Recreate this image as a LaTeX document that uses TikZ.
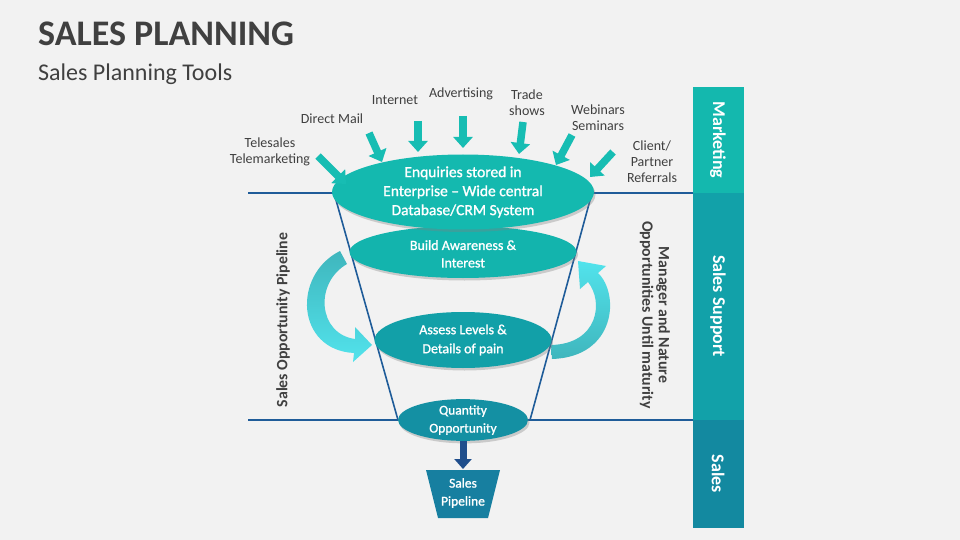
\documentclass[tikz,border=0pt]{standalone}
\usepackage{fontspec}
\setmainfont{Carlito}
\newfontfamily\semib{Carlito}[FakeBold=1.2,Ligatures=TeX]
\usetikzlibrary{arrows.meta,shapes.geometric,shadows}
\definecolor{bg}{HTML}{F2F2F2}
\definecolor{dark}{HTML}{404040}
\definecolor{mk}{HTML}{14B8AE}
\definecolor{ss}{HTML}{12A1A9}
\definecolor{sl}{HTML}{1389A0}
\definecolor{ea}{HTML}{14B9AF}
\definecolor{eb}{HTML}{13B4AD}
\definecolor{ec}{HTML}{12A0A8}
\definecolor{ed}{HTML}{1490A3}
\definecolor{tp}{HTML}{177FA0}
\definecolor{lineblue}{HTML}{1F5C99}
\definecolor{darrow}{HTML}{1F4E8C}
\definecolor{teal1}{HTML}{17BDB3}
\definecolor{cresA}{HTML}{3FB6BD}
\definecolor{cresB}{HTML}{52E3EC}
\tikzset{
  lab/.style={font=\fontsize{14}{16}\selectfont, text=dark, align=center, inner sep=0},
  ell/.style={ellipse, inner sep=0, text=white, align=center,
     drop shadow={opacity=0.35, shadow xshift=1.5pt, shadow yshift=-2.5pt}},
  inarrow/.style={draw=teal1, line width=7.5pt, -{Triangle[width=19pt,length=11pt]}},
  bar/.style={text=white, font=\fontsize{18}{21}\selectfont\bfseries, rotate=-90},
  side/.style={text=dark, font=\fontsize{15.8}{16.5}\selectfont\bfseries, align=center},
  funnel/.style={draw=lineblue, line width=1.6pt}
}
\begin{document}
\begin{tikzpicture}[x=1pt,y=-1pt]
\useasboundingbox (0,0) rectangle (960,540);
\fill[bg] (0,0) rectangle (960,540);

% title
\node[anchor=base west, inner sep=0, text=dark, font=\fontsize{36}{40}\selectfont\bfseries] (title) at (38,46) {SALES PLANNING};
\node[anchor=base west, inner sep=0, text=dark, font=\fontsize{24}{28}\selectfont] (subtitle) at (38,81) {Sales Planning Tools};

% right bar
\fill[mk] (693,87) rectangle (744,193);
\fill[ss] (693,193) rectangle (744,420);
\fill[sl] (693,420) rectangle (744,528);
\node[bar] (bmk) at (718,140) {Marketing};
\node[bar] (bss) at (718,306) {Sales Support};
\node[bar] (bsl) at (718,474) {Sales};

% horizontal lines
\draw[funnel] (248,193) -- (693,193);
\draw[funnel] (248,420) -- (693,420);

% funnel sides
\draw[funnel] (334,193) -- (398,420);
\draw[funnel] (592,193) -- (530,420);

% curved arrows
\shade[top color=cresA, bottom color=cresB]
  (340,251) .. controls (292,275) and (296,350) .. (354,353)
  -- (353,362) -- (372,345) -- (355,327) -- (355,339)
  .. controls (318,334) and (314,283) .. (347,264) -- cycle;
\shade[top color=cresB, bottom color=cresA]
  (552,359) .. controls (616,357) and (620,294) .. (598,273)
  -- (606,266) -- (578,261) -- (580,289) -- (588,282)
  .. controls (604,302) and (598,344) .. (551,345) -- cycle;

% ellipses
\node[ell, fill=ed, minimum width=130pt, minimum height=40pt, font=\semib\fontsize{13.5}{18}\selectfont] (e4) at (463,420) {Quantity\\Opportunity};
\node[ell, fill=ec, minimum width=177pt, minimum height=56pt, font=\semib\fontsize{14}{19}\selectfont] (e3) at (463,340) {Assess Levels \&\\Details of pain};
\node[ell, fill=eb, minimum width=227pt, minimum height=52pt, font=\semib\fontsize{14}{17.5}\selectfont] (e2) at (463,252) {\\[-4pt]Build Awareness \&\\Interest};
\node[ell, fill=ea, minimum width=262pt, minimum height=75pt, font=\semib\fontsize{15.5}{19}\selectfont] (e1) at (463,192) {Enquiries stored in\\Enterprise – Wide central\\Database/CRM System};

% sales pipeline trapezoid
\fill[tp] (426,470) -- (500,470) -- (488,518) -- (438,518) -- cycle;
\node[text=white, align=center, inner sep=0, font=\semib\fontsize{13.5}{18}\selectfont] (sp) at (463,493) {Sales\\Pipeline};
\coordinate (spt) at (463,469);
\draw[draw=darrow, line width=7pt, -{Triangle[width=17pt,length=10pt]}] (e4.south) -- (spt);

% side texts
\node[side, rotate=90] (sop) at (283,320) {Sales Opportunity Pipeline};
\node[side, rotate=-90] (mgr) at (655,315) {Manager and Nature\\Opportunities Until maturity};

% input labels
\node[lab] (l1) at (270,152) {Telesales\\Telemarketing};
\node[lab] (l2) at (332,119) {Direct Mail};
\node[lab] (l3) at (395,100) {Internet};
\node[lab] (l4) at (461,94) {Advertising};
\node[lab] (l5) at (527,103) {Trade\\shows};
\node[lab] (l6) at (598,118) {Webinars\\Seminars};
\node[lab] (l7) at (652,162) {Client/\\Partner\\Referrals};

% input arrows
\coordinate (a1s) at (318,156); \coordinate (a1e) at (346,184);
\coordinate (a2s) at (369,133); \coordinate (a2e) at (382,162);
\coordinate (a3s) at (418,121); \coordinate (a3e) at (418,152);
\coordinate (a4s) at (463,116); \coordinate (a4e) at (463,148);
\coordinate (a5s) at (523,122); \coordinate (a5e) at (519,154);
\coordinate (a6s) at (572,135); \coordinate (a6e) at (556,165);
\coordinate (a7s) at (613,152); \coordinate (a7e) at (590,177);
\foreach \i in {1,...,7} \draw[inarrow] (a\i s) -- (a\i e);
\end{tikzpicture}
\end{document}
